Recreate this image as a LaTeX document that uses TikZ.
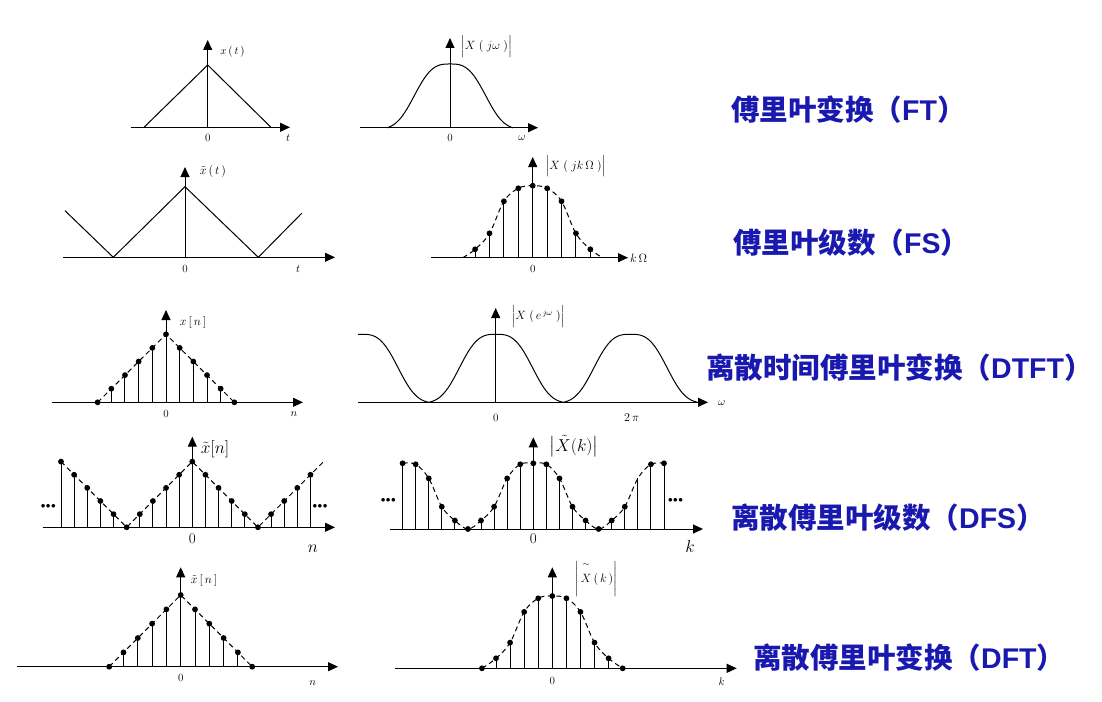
\documentclass[tikz,border=0pt]{standalone}
\usepackage{amsmath}
\usepackage{fontspec}
\usetikzlibrary{arrows.meta}
\newfontfamily\cjk{Noto Sans CJK SC}
\newfontfamily\latb{Liberation Sans}
\definecolor{tblue}{RGB}{25,25,175}
\tikzset{
 axis/.style={line width=1pt, -{Triangle[length=10pt,width=9pt]}},
 sig/.style={line width=1pt},
 stem/.style={line width=1pt},
 env/.style={line width=1pt, dash pattern=on 5pt off 3.5pt},
 lab/.style={inner sep=0pt, font=\fontsize{12}{14}\selectfont},
 sml/.style={inner sep=0pt, font=\fontsize{11}{13}\selectfont},
 biglab/.style={inner sep=0pt, font=\fontsize{15}{17}\selectfont},
 hugelab/.style={inner sep=0pt, font=\fontsize{17}{19}\selectfont},
 dots/.style={inner sep=0pt, font=\fontsize{9}{10}\selectfont},
 title/.style={inner sep=0pt, anchor=west, text=tblue, font=\cjk\bfseries\fontsize{28.5}{31}\selectfont},
}
\begin{document}
\begin{tikzpicture}[x=1pt,y=-1pt]
\useasboundingbox (0,0) rectangle (1102,701);
\fill[white] (0,0) rectangle (1102,701);

% ---------- Panel 1: FT time ----------
\coordinate (a1l) at (130.7,127.3); \coordinate (a1r) at (290,127.3);
\coordinate (a1o) at (207.7,127.3); \coordinate (a1t) at (207.7,40);
\draw[axis] (a1l) -- (a1r);
\draw[axis] (a1o) -- (a1t);
\draw[sig] (144,127.3) -- (207.7,65) -- (271,127.3);
\node[sml] (l1) at (232.5,52) {$x\,(\,t\,)$};
\node[sml] (z1) at (207.7,137.5) {0};
\node[sml] (v1) at (288,138.5) {$t$};

% ---------- Panel 2: FT freq ----------
\coordinate (a2l) at (360,127.7); \coordinate (a2r) at (538,127.7);
\coordinate (a2o) at (450,127.7); \coordinate (a2t) at (450,38);
\draw[axis] (a2l) -- (a2r);
\draw[axis] (a2o) -- (a2t);
\draw[sig] plot[domain=-63:63,samples=101] ({450+\x},{127.7-63.7*(exp(-pow(abs(\x)/41,3))-0.028)/0.972});
\node[lab] (l2) at (486.5,46.5) {$\left|\rule[-6pt]{0pt}{18pt}X\;(\;j\omega\;)\right|$};
\node[sml] (z2) at (450,137.5) {0};
\node[sml] (v2) at (522,138) {$\omega$};

% ---------- Panel 3: FS time ----------
\coordinate (a3l) at (63,257.3); \coordinate (a3r) at (335,257.3);
\coordinate (a3o) at (185,257.3); \coordinate (a3t) at (185,167);
\draw[axis] (a3l) -- (a3r);
\draw[axis] (a3o) -- (a3t);
\draw[sig] (65,210.7) -- (113.3,257.3) -- (185,186.7) -- (258.3,257.3) -- (301.7,213.3);
\node[lab] (l3) at (213,171.5) {$\tilde{x}\,(\,t\,)$};
\node[sml] (z3) at (185,268.5) {0};
\node[sml] (v3) at (298,269) {$t$};

% ---------- Panel 4: FS freq ----------
\coordinate (a4l) at (431,257.7); \coordinate (a4r) at (628,257.7);
\coordinate (a4o) at (532.7,257.7); \coordinate (a4t) at (532.7,157);
\draw[axis] (a4l) -- (a4r);
\draw[axis] (a4o) -- (a4t);
\foreach \k/\h in {-4/8.4,-3/24.4,-2/56.4,-1/69.4,0/72,1/69.4,2/56.4,3/24.4,4/8.4}{
  \draw[stem] ({532.7+\k*14.4},257.7) -- ({532.7+\k*14.4},{257.7-\h});
  \fill ({532.7+\k*14.4},{257.7-\h}) circle[radius=2.9];
}
\draw[env] plot[smooth,tension=0.6] coordinates {(462.7,257.7) (475.1,249.3) (489.5,233.3) (503.9,201.3) (518.3,188.3) (532.7,185.7) (547.1,188.3) (561.5,201.3) (575.9,233.3) (590.3,249.3) (602.7,257.7)};
\node[lab] (l4) at (575.5,166) {$\left|\rule[-6pt]{0pt}{18pt}X\;(\;jk\,\Omega\;)\right|$};
\node[sml] (z4) at (532.7,268.5) {0};
\node[lab,anchor=west] (v4) at (630,258.5) {$k\,\Omega$};

% ---------- Panel 5: DTFT time ----------
\coordinate (a5l) at (51.7,402.3); \coordinate (a5r) at (303,402.3);
\coordinate (a5o) at (166,402.3); \coordinate (a5t) at (166,310);
\draw[axis] (a5l) -- (a5r);
\draw[axis] (a5o) -- (a5t);
\foreach \k in {-5,...,5}{
  \pgfmathsetmacro\h{68*(1-abs(\k)/5)}
  \draw[stem] ({166+\k*13.67},402.3) -- ({166+\k*13.67},{402.3-\h});
  \fill ({166+\k*13.67},{402.3-\h}) circle[radius=2.9];
}
\draw[env] (97.65,402.3) -- (166,334.3) -- (234.35,402.3);
\node[lab] (l5) at (193,322) {$x\,[\,n\,]$};
\node[sml] (z5) at (166,413.5) {0};
\node[sml] (v5) at (294,414.5) {$n$};

% ---------- Panel 6: DTFT freq ----------
\coordinate (a6l) at (358,402.3); \coordinate (a6r) at (708,402.3);
\coordinate (a6o) at (495.7,402.3); \coordinate (a6t) at (495.7,308);
\draw[axis] (a6l) -- (a6r);
\draw[axis] (a6o) -- (a6t);
\draw[sig] plot[domain=358:697.5,samples=300] ({\x},{402.3-68*(exp(-pow(abs(mod(\x-496+67.25+1345,134.5)-67.25)/42,3))-0.0165)/0.9835});
\node[lab] (l6) at (538,316.7) {$\left|\rule[-6pt]{0pt}{18pt}X\;(\,e^{\,j\omega}\;)\right|$};
\node[sml] (z6) at (495.7,417.5) {0};
\node[lab] (p6) at (631.7,417.5) {$2\,\pi$};
\node[sml] (v6) at (721.7,403) {$\omega$};

% ---------- Panel 7: DFS time ----------
\coordinate (a7l) at (42.7,527.3); \coordinate (a7r) at (335,527.3);
\coordinate (a7o) at (192.3,527.3); \coordinate (a7t) at (192.3,436.7);
\draw[axis] (a7l) -- (a7r);
\draw[axis] (a7o) -- (a7t);
\foreach \k in {-10,...,9}{
  \pgfmathsetmacro\m{mod(\k+10,10)}
  \pgfmathsetmacro\d{min(\m,10-\m)}
  \pgfmathsetmacro\h{65.7*(1-\d/5)}
  \draw[stem] ({192.3+\k*13.13},527.3) -- ({192.3+\k*13.13},{527.3-\h});
  \fill ({192.3+\k*13.13},{527.3-\h}) circle[radius=2.9];
}
\draw[env] (61,461.6) -- (126.65,527.3) -- (192.3,461.6) -- (257.95,527.3) -- (323.6,461.6);
\node[hugelab] (l7) at (215,449.5) {$\tilde{x}[n]$};
\node[biglab] (z7) at (192.3,538.5) {0};
\node[hugelab] (v7) at (313,549) {$n$};
\node[dots] (e7l) at (48.3,506) {$\bullet\!\bullet\!\bullet$};
\node[dots] (e7r) at (320,506) {$\bullet\!\bullet\!\bullet$};

% ---------- Panel 8: DFS freq ----------
\coordinate (a8l) at (390,529); \coordinate (a8r) at (703,529);
\coordinate (a8o) at (533.3,529); \coordinate (a8t) at (533.3,437.3);
\draw[axis] (a8l) -- (a8r);
\draw[axis] (a8o) -- (a8t);
\foreach \k/\h/\dd in {-10/65.7/1,-9/64.7/1,-8/50.6/1,-7/22.3/1,-6/8.5/1,-5/0/1,-4/8.5/1,-3/22.3/1,-2/50.6/1,-1/64.7/1,0/65.7/1,1/64.7/1,2/50.6/1,3/22.3/1,4/8.5/1,5/0/1,6/8.5/1,7/22.3/1,8/50.6/0,9/64.7/1,10/65.7/1}{
  \draw[stem] ({533.3+\k*13.07},529) -- ({533.3+\k*13.07},{529-\h});
  \ifnum\dd=1 \fill ({533.3+\k*13.07},{529-\h}) circle[radius=2.9];\fi
}
\draw[env] plot[smooth,tension=0.6] coordinates {(402.6,463.3) (415.67,464.3) (428.74,478.4) (441.81,506.7) (454.88,520.5) (467.95,529) (481.02,520.5) (494.09,506.7) (507.16,478.4) (520.23,464.3) (533.3,463.3) (546.37,464.3) (559.44,478.4) (572.51,506.7) (585.58,520.5) (598.65,529) (611.72,520.5) (624.79,506.7) (637.86,478.4) (650.93,464.3) (664,463.3)};
\node[hugelab] (l8) at (574,446.7) {$\left|\rule[-7pt]{0pt}{20pt}\tilde{X}(k)\right|$};
\node[biglab] (z8) at (533.3,538.5) {0};
\node[hugelab] (v8) at (690,546.7) {$k$};
\node[dots] (e8l) at (388.3,500) {$\bullet\!\bullet\!\bullet$};
\node[dots] (e8r) at (675.5,500) {$\bullet\!\bullet\!\bullet$};

% ---------- Panel 9: DFT time ----------
\coordinate (a9l) at (16.7,666.7); \coordinate (a9r) at (338,666.7);
\coordinate (a9o) at (180.7,666.7); \coordinate (a9t) at (180.7,567.3);
\draw[axis] (a9l) -- (a9r);
\draw[axis] (a9o) -- (a9t);
\foreach \k in {-5,...,5}{
  \pgfmathsetmacro\h{71.7*(1-abs(\k)/5)}
  \draw[stem] ({180.7+\k*14.3},666.7) -- ({180.7+\k*14.3},{666.7-\h});
  \fill ({180.7+\k*14.3},{666.7-\h}) circle[radius=2.9];
}
\draw[env] (109.2,666.7) -- (180.7,595) -- (252.2,666.7);
\node[lab] (l9) at (204,580.5) {$\tilde{x}\,[\,n\,]$};
\node[sml] (z9) at (180.7,677.5) {0};
\node[sml] (v9) at (312.7,683) {$n$};

% ---------- Panel 10: DFT freq ----------
\coordinate (a10l) at (395,668.3); \coordinate (a10r) at (736.7,668.3);
\coordinate (a10o) at (552.3,668.3); \coordinate (a10t) at (552.3,567.3);
\draw[axis] (a10l) -- (a10r);
\draw[axis] (a10o) -- (a10t);
\foreach \k/\h in {-5/0,-4/10,-3/25.7,-2/56.4,-1/70,0/72.3,1/70,2/56.4,3/25.7,4/10,5/0}{
  \draw[stem] ({552.3+\k*14.07},668.3) -- ({552.3+\k*14.07},{668.3-\h});
  \fill ({552.3+\k*14.07},{668.3-\h}) circle[radius=2.9];
}
\draw[env] plot[smooth,tension=0.6] coordinates {(481.95,668.3) (496.02,658.3) (510.09,642.6) (524.16,611.9) (538.23,598.3) (552.3,596) (566.37,598.3) (580.44,611.9) (594.51,642.6) (608.58,658.3) (622.65,668.3)};
\node[lab] (l10) at (596,579) {$\left|\rule[-8pt]{0pt}{22pt}\,\overset{\raisebox{5pt}{$\scriptstyle\sim$}}{X}\,(\,k\,)\right|$};
\node[sml] (z10) at (552.3,680.5) {0};
\node[sml] (v10) at (721.7,681.5) {$k$};

% ---------- Titles ----------
\node[title] (t1) at (731,110) {傅里叶变换（{\latb FT}）};
\node[title] (t2) at (733,243) {傅里叶级数（{\latb FS}）};
\node[title] (t3) at (706,368) {离散时间傅里叶变换（{\latb DTFT}）};
\node[title] (t4) at (731,518) {离散傅里叶级数（{\latb DFS}）};
\node[title] (t5) at (753,658) {离散傅里叶变换（{\latb DFT}）};
\end{tikzpicture}
\end{document}
